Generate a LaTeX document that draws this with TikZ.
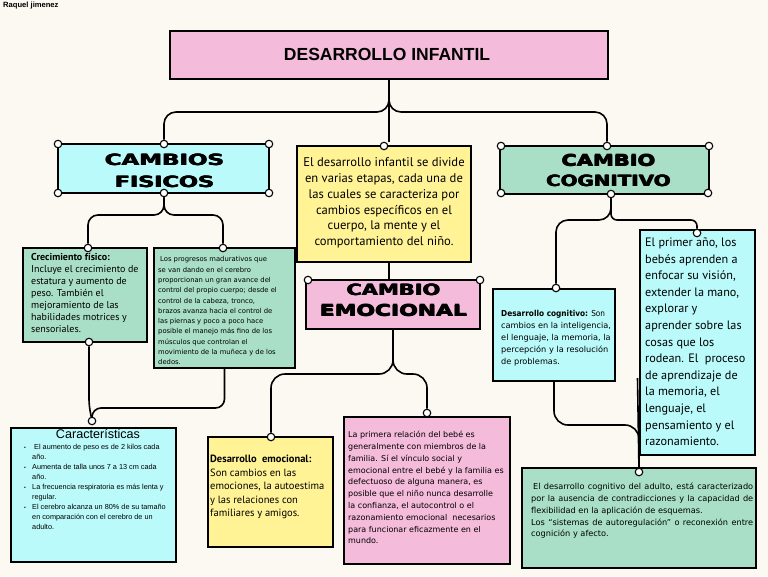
\documentclass[tikz,border=0pt]{standalone}
\usepackage{fontspec}
\usepackage{graphicx}
\setmainfont{PT Sans}
\newfontfamily\arialf{Liberation Sans}
\newfontfamily\dvf{DejaVu Sans}
\usetikzlibrary{calc}
\pgfdeclarelayer{back}
\pgfdeclarelayer{mid}
\pgfsetlayers{back,mid,main}
\definecolor{bgc}{RGB}{252,249,242}
\definecolor{pinkc}{RGB}{244,187,218}
\definecolor{cyanc}{RGB}{186,250,250}
\definecolor{mintc}{RGB}{168,223,198}
\definecolor{yellc}{RGB}{255,243,150}
\newcommand\fb[1]{\makebox[0pt][l]{\hspace{0.7pt}#1}\makebox[0pt][l]{\raisebox{0.35pt}{\hspace{0.35pt}#1}}#1}
\newcommand\hx[2]{\scalebox{#1}[1]{\fb{#2}}}
\newcommand\bul{\makebox[8pt][l]{\scalebox{0.7}{\textbullet}}}
\begin{document}
\begin{tikzpicture}[x=1pt,y=-1pt,
  box/.style={draw=black,line width=2pt,inner sep=0pt,rectangle},
  handle/.style={circle,draw=black,fill=white,line width=1.1pt,minimum size=7.5pt,inner sep=0pt},
  conn/.style={draw=black,line width=1.6pt,rounded corners=12pt},
  txt/.style={inner sep=0pt,anchor=north west,align=left},
  head/.style={inner sep=0pt,align=center,font=\dvf\bfseries\fontsize{15.5}{20.5}\selectfont}]
\begin{pgfonlayer}{back}
\fill[bgc] (0,0) rectangle (768,576);
\end{pgfonlayer}
\useasboundingbox (0,0) rectangle (768,576);

% author
\node[txt,font=\arialf\bfseries\fontsize{7.6}{9}\selectfont] (author) at (3,1.5) {Raquel jimenez};

% title
\node[box,fill=pinkc,minimum width=438pt,minimum height=48pt] (title) at (389,55) {};
\node[inner sep=0pt,font=\arialf\bfseries\fontsize{17.5}{20}\selectfont] (titlex) at (387,54) {DESARROLLO INFANTIL};

% headings
\node[box,fill=cyanc,minimum width=211pt,minimum height=49pt] (cf) at (163.5,168.5) {};
\node[head,font=\dvf\bfseries\fontsize{15.5}{22}\selectfont] (cfx) at (164,171) {\hx{1.48}{CAMBIOS}\\\hx{1.44}{FISICOS}};

\node[box,fill=mintc,minimum width=209pt,minimum height=48pt] (cg) at (604.5,170) {};
\node[head] (cgx) at (608,170.5) {\hx{1.35}{CAMBIO}\\\hx{1.28}{COGNITIVO}};

\node[box,fill=yellc,minimum width=174pt,minimum height=116pt] (yel) at (384,204) {};
\node[inner sep=0pt,align=center,font=\fontsize{12.6}{15.8}\selectfont] (yelx) at (384,203) {El desarrollo infantil se divide\\en varias etapas, cada una de\\las cuales se caracteriza por\\cambios específicos en el\\cuerpo, la mente y el\\comportamiento del niño.};

\node[box,fill=pinkc,minimum width=174pt,minimum height=49pt] (emo) at (393,304.5) {};
\node[head] (emox) at (393,300) {\hx{1.35}{CAMBIO}\\\hx{1.41}{EMOCIONAL}};

% left column
\node[box,fill=mintc,minimum width=124pt,minimum height=94pt] (crec) at (85,295) {};
\node[txt,font=\fontsize{10}{12}\selectfont] (crecx) at (31,253) {\textbf{Crecimiento físico:}\\Incluye el crecimiento de\\estatura y aumento de\\peso. También el\\mejoramiento de las\\habilidades motrices y\\sensoriales.};

\node[box,fill=mintc,minimum width=141pt,minimum height=120pt] (prog) at (224.5,308) {};
\node[txt,font=\dvf\fontsize{6.8}{10.3}\selectfont] (progx) at (158,256.5) {\hspace{2pt}Los progresos madurativos que\\se van dando en el cerebro\\proporcionan un gran avance del\\control del propio cuerpo; desde el\\control de la cabeza, tronco,\\brazos avanza hacia el control de\\las piernas y poco a poco hace\\posible el manejo más fino de los\\músculos que controlan el\\movimiento de la muñeca y de los\\dedos.};

\node[box,fill=cyanc,minimum width=165pt,minimum height=134pt] (car) at (93.5,495) {};
\node[inner sep=0pt,font=\arialf\fontsize{12.6}{14}\selectfont] (cartitle) at (98,433.5) {Características};
\node[txt,font=\arialf\fontsize{7.3}{10}\selectfont] (carx) at (24,444) {\bul\hspace{2pt}El aumento de peso es de 2 kilos cada\\\hspace*{8pt}año.\\\bul Aumenta de talla unos 7 a 13 cm cada\\\hspace*{8pt}año.\\\bul La frecuencia respiratoria es más lenta y\\\hspace*{8pt}regular.\\\bul El cerebro alcanza un 80\% de su tamaño\\\hspace*{8pt}en comparación con el cerebro de un\\\hspace*{8pt}adulto.};

% emotional column
\node[box,fill=yellc,minimum width=125pt,minimum height=110pt] (de) at (270.5,492) {};
\node[txt,font=\fontsize{10.5}{13.5}\selectfont] (dex) at (210,455) {\textbf{Desarrollo\ \ emocional:}\\Son cambios en las\\emociones, la autoestima\\y las relaciones con\\familiares y amigos.};

\node[box,fill=pinkc,minimum width=166pt,minimum height=147pt] (pr) at (427,490.5) {};
\node[txt,font=\dvf\fontsize{8}{11.8}\selectfont] (prx) at (348,431) {La primera relación del bebé es\\generalmente con miembros de la\\familia. Sí el vínculo social y\\emocional entre el bebé y la familia es\\defectuoso de alguna manera, es\\posible que el niño nunca desarrolle\\la confianza, el autocontrol o el\\razonamiento emocional\ \ necesarios\\para funcionar eficazmente en el\\mundo.};

% cognitive column
\node[box,fill=cyanc,minimum width=122pt,minimum height=92pt] (dc) at (554,335) {};
\node[txt,font=\dvf\fontsize{8.2}{11.9}\selectfont] (dcx) at (501,310.5) {\scalebox{0.9}[1]{\textbf{Desarrollo cognitivo:} Son}\\cambios en la inteligencia,\\el lenguaje, la memoria, la\\percepción y la resolución\\de problemas.};

\node[box,fill=cyanc,minimum width=115pt,minimum height=225pt] (pa) at (697.5,342.5) {};
\node[txt,font=\fontsize{12.2}{16.6}\selectfont] (pax) at (645,237.5) {El primer año, los\\bebés aprenden a\\enfocar su visión,\\extender la mano,\\explorar y\\aprender sobre las\\cosas que los\\rodean. El\ \ proceso\\de aprendizaje de\\la memoria, el\\lenguaje, el\\pensamiento y el\\razonamiento.};

\node[box,fill=mintc,minimum width=234pt,minimum height=100pt] (ad) at (639,518) {};
\node[txt,font=\dvf\fontsize{8.2}{11.8}\selectfont] (adx) at (531,483) {\makebox[222pt][s]{\hspace{2pt}El desarrollo cognitivo del adulto, está caracterizado}\\\makebox[222pt][s]{por la ausencia de contradicciones y la capacidad de}\\flexibilidad en la aplicación de esquemas.\\\makebox[222pt][s]{Los “sistemas de autoregulación” o reconexión entre}\\cognición y afecto.};

% handles
\node[handle] (h1) at (58,144) {};
\node[handle] (h2) at (269,144) {};
\node[handle] (h3) at (58,193) {};
\node[handle] (h4) at (269,193) {};
\node[handle] (cft) at (164,144) {};
\node[handle] (cfb) at (164,193) {};
\node[handle] (g1) at (501,146) {};
\node[handle] (g2) at (709,146) {};
\node[handle] (g3) at (501,193) {};
\node[handle] (g4) at (708,193) {};
\node[handle] (cgt) at (607,146) {};
\node[handle] (cgb) at (611,194) {};
\node[handle] (yh) at (384,146) {};
\node[handle] (e1) at (308,280) {};
\node[handle] (e2) at (480,280) {};
\node[handle] (crt) at (88,248) {};
\node[handle] (crb) at (89,342) {};
\node[handle] (prt) at (223,248) {};
\node[handle] (cat) at (92,421) {};
\node[handle] (det) at (271,437) {};
\node[handle] (prh) at (427,413) {};
\node[handle] (dct) at (556,288) {};
\node[handle] (pat) at (697,233) {};
\node[handle] (adt) at (639,472) {};
\coordinate (pal) at (637.5,378);

\begin{pgfonlayer}{mid}
\draw[conn] (title.south) -- (389,112) -| (cft);
\draw[conn] (title.south) -- (389,112) -| (cgt);
\draw[conn] (title.south) -- (title.south |- yh.north);
\draw[conn,rounded corners=10pt] (cfb) -- (164,215) -| (crt);
\draw[conn,rounded corners=10pt] (cfb) -- (164,215) -| (prt);
\draw[conn,rounded corners=6pt] (crb) -- (89,405) -- (cat);
\draw[conn,rounded corners=9pt] (prog.south) -- (224.5,408) -| (cat);
\draw[conn] (title.south |- yel.south) -- (title.south |- emo.north);
\draw[conn,rounded corners=14pt] (emo.south) -- (393,374) -| (det);
\draw[conn,rounded corners=14pt] (emo.south) -- (393,374) -| (prh);
\draw[conn] (cgb) -- (611,220) -| (dct);
\draw[conn,rounded corners=6pt] (cgb) -- (611,220) -| (pat);
\draw[conn,rounded corners=14pt] (dc.south) -- (554,425) -| (adt);
\draw[conn] (pal) -- (adt);
\end{pgfonlayer}
\end{tikzpicture}
\end{document}
